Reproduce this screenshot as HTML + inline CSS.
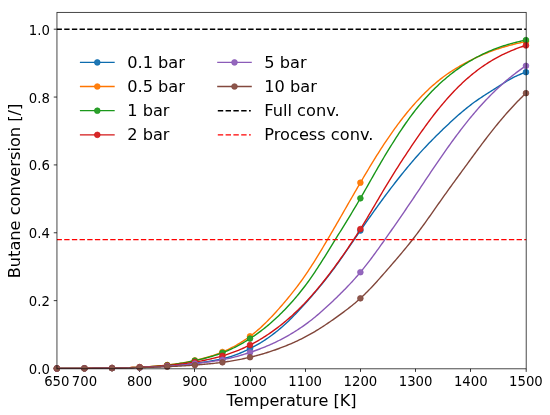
<!DOCTYPE html>
<html><head><meta charset="utf-8"><title>Butane conversion</title>
<style>html,body{margin:0;padding:0;background:#fff;overflow:hidden}svg{display:block}</style></head>
<body>
<svg width="550" height="415" viewBox="0 0 550 415">
<rect width="550" height="415" fill="#fff"/>
<defs><clipPath id="ax"><rect x="56.95" y="12.4" width="469.25000000000006" height="356.40000000000003"/></clipPath></defs>
<path d="M56.95 368.8v3.1 M84.50 368.8v3.1 M139.50 368.8v3.1 M194.50 368.8v3.1 M250.50 368.8v3.1 M305.50 368.8v3.1 M360.50 368.8v3.1 M415.50 368.8v3.1 M470.50 368.8v3.1 M526.20 368.8v3.1 M56.95 368.50h-3.2 M56.95 300.64h-3.2 M56.95 232.78h-3.2 M56.95 164.92h-3.2 M56.95 97.06h-3.2 M56.95 29.20h-3.2" stroke="#000" stroke-width="0.78" fill="none"/>
<g clip-path="url(#ax)"><path d="M56.85 368.46 L58.23 368.46 L59.61 368.46 L60.99 368.45 L62.37 368.45 L63.75 368.45 L65.13 368.44 L66.51 368.44 L67.89 368.44 L69.27 368.43 L70.65 368.43 L72.03 368.42 L73.41 368.42 L74.79 368.41 L76.17 368.41 L77.55 368.40 L78.93 368.39 L80.31 368.39 L81.69 368.38 L83.07 368.37 L84.44 368.36 L85.82 368.36 L87.20 368.35 L88.58 368.34 L89.96 368.33 L91.34 368.32 L92.72 368.31 L94.10 368.30 L95.48 368.29 L96.86 368.27 L98.24 368.26 L99.62 368.25 L101.00 368.23 L102.38 368.22 L103.76 368.20 L105.14 368.19 L106.52 368.17 L107.90 368.15 L109.28 368.14 L110.66 368.12 L112.04 368.10 L113.42 368.08 L114.80 368.05 L116.18 368.03 L117.56 368.01 L118.94 367.98 L120.32 367.95 L121.70 367.93 L123.08 367.90 L124.46 367.87 L125.84 367.84 L127.22 367.81 L128.60 367.77 L129.98 367.74 L131.36 367.70 L132.74 367.66 L134.12 367.62 L135.50 367.58 L136.88 367.54 L138.26 367.49 L139.63 367.45 L141.01 367.40 L142.39 367.35 L143.77 367.30 L145.15 367.24 L146.53 367.19 L147.91 367.13 L149.29 367.07 L150.67 367.01 L152.05 366.94 L153.43 366.88 L154.81 366.81 L156.19 366.73 L157.57 366.66 L158.95 366.58 L160.33 366.50 L161.71 366.42 L163.09 366.33 L164.47 366.24 L165.85 366.15 L167.23 366.06 L168.61 365.96 L169.99 365.85 L171.37 365.75 L172.75 365.64 L174.13 365.52 L175.51 365.40 L176.89 365.28 L178.27 365.16 L179.65 365.03 L181.03 364.90 L182.41 364.76 L183.79 364.62 L185.17 364.47 L186.55 364.32 L187.93 364.17 L189.31 364.01 L190.69 363.85 L192.07 363.69 L193.45 363.52 L194.82 363.34 L196.20 363.17 L197.58 362.99 L198.96 362.80 L200.34 362.62 L201.72 362.43 L203.10 362.24 L204.48 362.04 L205.86 361.84 L207.24 361.64 L208.62 361.43 L210.00 361.21 L211.38 360.99 L212.76 360.76 L214.14 360.52 L215.52 360.27 L216.90 360.01 L218.28 359.73 L219.66 359.45 L221.04 359.15 L222.42 358.83 L223.80 358.50 L225.18 358.14 L226.56 357.77 L227.94 357.38 L229.32 356.97 L230.70 356.54 L232.08 356.10 L233.46 355.63 L234.84 355.14 L236.22 354.64 L237.60 354.11 L238.98 353.56 L240.36 353.00 L241.74 352.42 L243.12 351.82 L244.50 351.20 L245.88 350.57 L247.26 349.92 L248.64 349.26 L250.01 348.58 L251.39 347.89 L252.77 347.18 L254.15 346.45 L255.53 345.70 L256.91 344.93 L258.29 344.13 L259.67 343.32 L261.05 342.48 L262.43 341.62 L263.81 340.73 L265.19 339.83 L266.57 338.90 L267.95 337.95 L269.33 336.97 L270.71 335.98 L272.09 334.96 L273.47 333.92 L274.85 332.86 L276.23 331.77 L277.61 330.67 L278.99 329.54 L280.37 328.38 L281.75 327.20 L283.13 325.99 L284.51 324.75 L285.89 323.49 L287.27 322.20 L288.65 320.89 L290.03 319.55 L291.41 318.19 L292.79 316.80 L294.17 315.39 L295.55 313.97 L296.93 312.52 L298.31 311.06 L299.69 309.58 L301.07 308.08 L302.45 306.57 L303.83 305.05 L305.20 303.52 L306.58 301.98 L307.96 300.43 L309.34 298.87 L310.72 297.29 L312.10 295.70 L313.48 294.10 L314.86 292.49 L316.24 290.86 L317.62 289.22 L319.00 287.57 L320.38 285.90 L321.76 284.22 L323.14 282.52 L324.52 280.80 L325.90 279.06 L327.28 277.31 L328.66 275.54 L330.04 273.75 L331.42 271.94 L332.80 270.10 L334.18 268.25 L335.56 266.37 L336.94 264.46 L338.32 262.54 L339.70 260.60 L341.08 258.65 L342.46 256.68 L343.84 254.69 L345.22 252.69 L346.60 250.69 L347.98 248.67 L349.36 246.65 L350.74 244.63 L352.12 242.60 L353.50 240.58 L354.88 238.55 L356.26 236.54 L357.64 234.53 L359.02 232.53 L360.39 230.54 L361.77 228.56 L363.15 226.59 L364.53 224.61 L365.91 222.64 L367.29 220.68 L368.67 218.72 L370.05 216.76 L371.43 214.81 L372.81 212.87 L374.19 210.93 L375.57 209.00 L376.95 207.08 L378.33 205.17 L379.71 203.27 L381.09 201.38 L382.47 199.49 L383.85 197.62 L385.23 195.76 L386.61 193.90 L387.99 192.06 L389.37 190.23 L390.75 188.42 L392.13 186.61 L393.51 184.81 L394.89 183.03 L396.27 181.25 L397.65 179.49 L399.03 177.74 L400.41 176.00 L401.79 174.28 L403.17 172.57 L404.55 170.87 L405.93 169.19 L407.31 167.52 L408.69 165.86 L410.07 164.22 L411.45 162.59 L412.83 160.98 L414.21 159.38 L415.58 157.79 L416.96 156.23 L418.34 154.68 L419.72 153.14 L421.10 151.62 L422.48 150.12 L423.86 148.64 L425.24 147.16 L426.62 145.71 L428.00 144.26 L429.38 142.83 L430.76 141.41 L432.14 140.01 L433.52 138.61 L434.90 137.23 L436.28 135.86 L437.66 134.49 L439.04 133.14 L440.42 131.79 L441.80 130.45 L443.18 129.12 L444.56 127.80 L445.94 126.48 L447.32 125.18 L448.70 123.88 L450.08 122.59 L451.46 121.31 L452.84 120.04 L454.22 118.78 L455.60 117.54 L456.98 116.30 L458.36 115.09 L459.74 113.88 L461.12 112.70 L462.50 111.52 L463.88 110.37 L465.26 109.23 L466.64 108.11 L468.02 107.01 L469.40 105.93 L470.77 104.86 L472.15 103.82 L473.53 102.80 L474.91 101.80 L476.29 100.82 L477.67 99.86 L479.05 98.92 L480.43 97.98 L481.81 97.07 L483.19 96.16 L484.57 95.26 L485.95 94.37 L487.33 93.49 L488.71 92.62 L490.09 91.75 L491.47 90.88 L492.85 90.01 L494.23 89.15 L495.61 88.28 L496.99 87.41 L498.37 86.54 L499.75 85.66 L501.13 84.76 L502.51 83.86 L503.89 82.96 L505.27 82.07 L506.65 81.20 L508.03 80.36 L509.41 79.55 L510.79 78.78 L512.17 78.06 L513.55 77.37 L514.93 76.71 L516.31 76.06 L517.69 75.44 L519.07 74.84 L520.45 74.26 L521.83 73.71 L523.21 73.18 L524.59 72.67 L525.96 72.19" stroke="#0969ac" stroke-width="1.38" fill="none" stroke-linejoin="round"/></g>
<g fill="#1f77b4" stroke="#0d6cae" stroke-width="0.7"><circle cx="56.85" cy="368.46" r="2.85"/><circle cx="84.44" cy="368.36" r="2.85"/><circle cx="112.04" cy="368.10" r="2.85"/><circle cx="139.63" cy="367.45" r="2.85"/><circle cx="167.23" cy="366.06" r="2.85"/><circle cx="194.82" cy="363.34" r="2.85"/><circle cx="222.42" cy="358.83" r="2.85"/><circle cx="250.01" cy="348.58" r="2.85"/><circle cx="360.39" cy="230.54" r="2.85"/><circle cx="525.96" cy="72.19" r="2.85"/></g>
<g clip-path="url(#ax)"><path d="M56.85 368.47 L58.23 368.47 L59.61 368.46 L60.99 368.46 L62.37 368.46 L63.75 368.45 L65.13 368.45 L66.51 368.45 L67.89 368.44 L69.27 368.44 L70.65 368.43 L72.03 368.43 L73.41 368.42 L74.79 368.42 L76.17 368.41 L77.55 368.41 L78.93 368.40 L80.31 368.39 L81.69 368.39 L83.07 368.38 L84.44 368.37 L85.82 368.36 L87.20 368.35 L88.58 368.34 L89.96 368.33 L91.34 368.32 L92.72 368.31 L94.10 368.29 L95.48 368.28 L96.86 368.27 L98.24 368.25 L99.62 368.24 L101.00 368.22 L102.38 368.20 L103.76 368.18 L105.14 368.16 L106.52 368.14 L107.90 368.12 L109.28 368.10 L110.66 368.07 L112.04 368.05 L113.42 368.02 L114.80 367.99 L116.18 367.96 L117.56 367.93 L118.94 367.90 L120.32 367.87 L121.70 367.83 L123.08 367.79 L124.46 367.75 L125.84 367.71 L127.22 367.67 L128.60 367.62 L129.98 367.57 L131.36 367.52 L132.74 367.47 L134.12 367.41 L135.50 367.36 L136.88 367.30 L138.26 367.23 L139.63 367.17 L141.01 367.10 L142.39 367.02 L143.77 366.95 L145.15 366.87 L146.53 366.79 L147.91 366.70 L149.29 366.61 L150.67 366.52 L152.05 366.42 L153.43 366.32 L154.81 366.21 L156.19 366.10 L157.57 365.99 L158.95 365.87 L160.33 365.74 L161.71 365.61 L163.09 365.48 L164.47 365.34 L165.85 365.19 L167.23 365.04 L168.61 364.88 L169.99 364.71 L171.37 364.54 L172.75 364.36 L174.13 364.18 L175.51 363.98 L176.89 363.78 L178.27 363.58 L179.65 363.36 L181.03 363.14 L182.41 362.91 L183.79 362.67 L185.17 362.43 L186.55 362.17 L187.93 361.91 L189.31 361.64 L190.69 361.36 L192.07 361.07 L193.45 360.77 L194.82 360.46 L196.20 360.14 L197.58 359.82 L198.96 359.48 L200.34 359.14 L201.72 358.78 L203.10 358.42 L204.48 358.04 L205.86 357.66 L207.24 357.26 L208.62 356.85 L210.00 356.43 L211.38 356.00 L212.76 355.55 L214.14 355.09 L215.52 354.61 L216.90 354.12 L218.28 353.61 L219.66 353.08 L221.04 352.54 L222.42 351.98 L223.80 351.39 L225.18 350.79 L226.56 350.17 L227.94 349.53 L229.32 348.87 L230.70 348.19 L232.08 347.49 L233.46 346.76 L234.84 346.02 L236.22 345.25 L237.60 344.46 L238.98 343.65 L240.36 342.81 L241.74 341.96 L243.12 341.07 L244.50 340.17 L245.88 339.24 L247.26 338.28 L248.64 337.30 L250.01 336.30 L251.39 335.27 L252.77 334.20 L254.15 333.11 L255.53 331.98 L256.91 330.82 L258.29 329.64 L259.67 328.41 L261.05 327.16 L262.43 325.88 L263.81 324.58 L265.19 323.24 L266.57 321.87 L267.95 320.48 L269.33 319.07 L270.71 317.63 L272.09 316.17 L273.47 314.69 L274.85 313.19 L276.23 311.67 L277.61 310.14 L278.99 308.60 L280.37 307.03 L281.75 305.46 L283.13 303.86 L284.51 302.25 L285.89 300.61 L287.27 298.96 L288.65 297.29 L290.03 295.60 L291.41 293.89 L292.79 292.15 L294.17 290.40 L295.55 288.61 L296.93 286.81 L298.31 284.97 L299.69 283.11 L301.07 281.22 L302.45 279.30 L303.83 277.35 L305.20 275.36 L306.58 273.34 L307.96 271.29 L309.34 269.21 L310.72 267.10 L312.10 264.96 L313.48 262.80 L314.86 260.61 L316.24 258.40 L317.62 256.16 L319.00 253.90 L320.38 251.62 L321.76 249.33 L323.14 247.02 L324.52 244.70 L325.90 242.36 L327.28 240.01 L328.66 237.66 L330.04 235.30 L331.42 232.94 L332.80 230.57 L334.18 228.21 L335.56 225.83 L336.94 223.44 L338.32 221.05 L339.70 218.65 L341.08 216.25 L342.46 213.84 L343.84 211.43 L345.22 209.02 L346.60 206.61 L347.98 204.19 L349.36 201.78 L350.74 199.38 L352.12 196.97 L353.50 194.58 L354.88 192.18 L356.26 189.80 L357.64 187.42 L359.02 185.06 L360.39 182.70 L361.77 180.35 L363.15 178.01 L364.53 175.68 L365.91 173.35 L367.29 171.03 L368.67 168.73 L370.05 166.44 L371.43 164.16 L372.81 161.90 L374.19 159.65 L375.57 157.42 L376.95 155.21 L378.33 153.01 L379.71 150.84 L381.09 148.69 L382.47 146.56 L383.85 144.45 L385.23 142.37 L386.61 140.32 L387.99 138.28 L389.37 136.28 L390.75 134.29 L392.13 132.33 L393.51 130.39 L394.89 128.47 L396.27 126.57 L397.65 124.69 L399.03 122.84 L400.41 121.02 L401.79 119.22 L403.17 117.44 L404.55 115.70 L405.93 113.97 L407.31 112.27 L408.69 110.60 L410.07 108.96 L411.45 107.34 L412.83 105.75 L414.21 104.19 L415.58 102.66 L416.96 101.15 L418.34 99.66 L419.72 98.20 L421.10 96.76 L422.48 95.34 L423.86 93.95 L425.24 92.58 L426.62 91.24 L428.00 89.92 L429.38 88.62 L430.76 87.35 L432.14 86.11 L433.52 84.89 L434.90 83.69 L436.28 82.52 L437.66 81.38 L439.04 80.26 L440.42 79.16 L441.80 78.09 L443.18 77.04 L444.56 76.02 L445.94 75.02 L447.32 74.05 L448.70 73.10 L450.08 72.17 L451.46 71.26 L452.84 70.37 L454.22 69.50 L455.60 68.64 L456.98 67.81 L458.36 66.99 L459.74 66.19 L461.12 65.40 L462.50 64.62 L463.88 63.86 L465.26 63.12 L466.64 62.38 L468.02 61.66 L469.40 60.95 L470.77 60.25 L472.15 59.56 L473.53 58.88 L474.91 58.21 L476.29 57.55 L477.67 56.91 L479.05 56.28 L480.43 55.66 L481.81 55.05 L483.19 54.46 L484.57 53.87 L485.95 53.30 L487.33 52.75 L488.71 52.20 L490.09 51.67 L491.47 51.15 L492.85 50.64 L494.23 50.15 L495.61 49.67 L496.99 49.20 L498.37 48.74 L499.75 48.30 L501.13 47.86 L502.51 47.44 L503.89 47.02 L505.27 46.62 L506.65 46.22 L508.03 45.83 L509.41 45.45 L510.79 45.09 L512.17 44.73 L513.55 44.37 L514.93 44.03 L516.31 43.70 L517.69 43.37 L519.07 43.05 L520.45 42.74 L521.83 42.44 L523.21 42.15 L524.59 41.86 L525.96 41.58" stroke="#ff7200" stroke-width="1.38" fill="none" stroke-linejoin="round"/></g>
<g fill="#ff7f0e" stroke="#ff7500" stroke-width="0.7"><circle cx="56.85" cy="368.47" r="2.85"/><circle cx="84.44" cy="368.37" r="2.85"/><circle cx="112.04" cy="368.05" r="2.85"/><circle cx="139.63" cy="367.17" r="2.85"/><circle cx="167.23" cy="365.04" r="2.85"/><circle cx="194.82" cy="360.46" r="2.85"/><circle cx="222.42" cy="351.98" r="2.85"/><circle cx="250.01" cy="336.30" r="2.85"/><circle cx="360.39" cy="182.70" r="2.85"/><circle cx="525.96" cy="41.58" r="2.85"/></g>
<g clip-path="url(#ax)"><path d="M56.85 368.47 L58.23 368.47 L59.61 368.47 L60.99 368.46 L62.37 368.46 L63.75 368.46 L65.13 368.46 L66.51 368.45 L67.89 368.45 L69.27 368.44 L70.65 368.44 L72.03 368.44 L73.41 368.43 L74.79 368.43 L76.17 368.42 L77.55 368.42 L78.93 368.41 L80.31 368.40 L81.69 368.40 L83.07 368.39 L84.44 368.38 L85.82 368.37 L87.20 368.36 L88.58 368.35 L89.96 368.34 L91.34 368.33 L92.72 368.32 L94.10 368.31 L95.48 368.30 L96.86 368.29 L98.24 368.27 L99.62 368.26 L101.00 368.24 L102.38 368.22 L103.76 368.21 L105.14 368.19 L106.52 368.17 L107.90 368.15 L109.28 368.13 L110.66 368.10 L112.04 368.08 L113.42 368.06 L114.80 368.03 L116.18 368.00 L117.56 367.97 L118.94 367.94 L120.32 367.91 L121.70 367.87 L123.08 367.84 L124.46 367.80 L125.84 367.76 L127.22 367.72 L128.60 367.67 L129.98 367.63 L131.36 367.58 L132.74 367.53 L134.12 367.48 L135.50 367.42 L136.88 367.36 L138.26 367.30 L139.63 367.24 L141.01 367.17 L142.39 367.10 L143.77 367.03 L145.15 366.95 L146.53 366.87 L147.91 366.79 L149.29 366.70 L150.67 366.61 L152.05 366.52 L153.43 366.42 L154.81 366.32 L156.19 366.21 L157.57 366.10 L158.95 365.98 L160.33 365.86 L161.71 365.73 L163.09 365.60 L164.47 365.47 L165.85 365.32 L167.23 365.17 L168.61 365.02 L169.99 364.85 L171.37 364.68 L172.75 364.50 L174.13 364.32 L175.51 364.12 L176.89 363.93 L178.27 363.72 L179.65 363.51 L181.03 363.29 L182.41 363.06 L183.79 362.82 L185.17 362.58 L186.55 362.33 L187.93 362.07 L189.31 361.80 L190.69 361.53 L192.07 361.25 L193.45 360.96 L194.82 360.66 L196.20 360.36 L197.58 360.05 L198.96 359.73 L200.34 359.40 L201.72 359.07 L203.10 358.72 L204.48 358.37 L205.86 358.01 L207.24 357.65 L208.62 357.27 L210.00 356.88 L211.38 356.48 L212.76 356.07 L214.14 355.64 L215.52 355.20 L216.90 354.75 L218.28 354.29 L219.66 353.81 L221.04 353.31 L222.42 352.79 L223.80 352.26 L225.18 351.70 L226.56 351.13 L227.94 350.54 L229.32 349.93 L230.70 349.31 L232.08 348.66 L233.46 348.00 L234.84 347.31 L236.22 346.61 L237.60 345.89 L238.98 345.15 L240.36 344.39 L241.74 343.61 L243.12 342.81 L244.50 342.00 L245.88 341.17 L247.26 340.32 L248.64 339.45 L250.01 338.57 L251.39 337.68 L252.77 336.76 L254.15 335.82 L255.53 334.87 L256.91 333.90 L258.29 332.90 L259.67 331.89 L261.05 330.85 L262.43 329.80 L263.81 328.73 L265.19 327.63 L266.57 326.51 L267.95 325.37 L269.33 324.21 L270.71 323.03 L272.09 321.82 L273.47 320.59 L274.85 319.34 L276.23 318.06 L277.61 316.76 L278.99 315.43 L280.37 314.09 L281.75 312.72 L283.13 311.33 L284.51 309.92 L285.89 308.48 L287.27 307.02 L288.65 305.54 L290.03 304.04 L291.41 302.51 L292.79 300.95 L294.17 299.37 L295.55 297.76 L296.93 296.13 L298.31 294.46 L299.69 292.77 L301.07 291.05 L302.45 289.30 L303.83 287.52 L305.20 285.71 L306.58 283.86 L307.96 281.98 L309.34 280.06 L310.72 278.10 L312.10 276.12 L313.48 274.09 L314.86 272.04 L316.24 269.96 L317.62 267.86 L319.00 265.73 L320.38 263.58 L321.76 261.40 L323.14 259.21 L324.52 257.01 L325.90 254.79 L327.28 252.57 L328.66 250.34 L330.04 248.10 L331.42 245.87 L332.80 243.64 L334.18 241.41 L335.56 239.18 L336.94 236.96 L338.32 234.73 L339.70 232.50 L341.08 230.27 L342.46 228.03 L343.84 225.80 L345.22 223.55 L346.60 221.31 L347.98 219.05 L349.36 216.79 L350.74 214.52 L352.12 212.24 L353.50 209.95 L354.88 207.65 L356.26 205.34 L357.64 203.01 L359.02 200.67 L360.39 198.31 L361.77 195.93 L363.15 193.54 L364.53 191.14 L365.91 188.73 L367.29 186.31 L368.67 183.88 L370.05 181.46 L371.43 179.03 L372.81 176.60 L374.19 174.18 L375.57 171.76 L376.95 169.35 L378.33 166.96 L379.71 164.57 L381.09 162.20 L382.47 159.85 L383.85 157.52 L385.23 155.21 L386.61 152.93 L387.99 150.67 L389.37 148.43 L390.75 146.21 L392.13 144.00 L393.51 141.80 L394.89 139.62 L396.27 137.46 L397.65 135.33 L399.03 133.21 L400.41 131.12 L401.79 129.05 L403.17 127.00 L404.55 124.99 L405.93 123.00 L407.31 121.04 L408.69 119.11 L410.07 117.21 L411.45 115.35 L412.83 113.51 L414.21 111.72 L415.58 109.95 L416.96 108.22 L418.34 106.52 L419.72 104.85 L421.10 103.21 L422.48 101.60 L423.86 100.02 L425.24 98.46 L426.62 96.93 L428.00 95.43 L429.38 93.96 L430.76 92.51 L432.14 91.09 L433.52 89.70 L434.90 88.33 L436.28 86.98 L437.66 85.66 L439.04 84.36 L440.42 83.09 L441.80 81.83 L443.18 80.60 L444.56 79.40 L445.94 78.21 L447.32 77.06 L448.70 75.92 L450.08 74.81 L451.46 73.71 L452.84 72.65 L454.22 71.60 L455.60 70.57 L456.98 69.57 L458.36 68.58 L459.74 67.62 L461.12 66.67 L462.50 65.75 L463.88 64.84 L465.26 63.95 L466.64 63.08 L468.02 62.23 L469.40 61.40 L470.77 60.59 L472.15 59.79 L473.53 59.00 L474.91 58.23 L476.29 57.48 L477.67 56.75 L479.05 56.03 L480.43 55.32 L481.81 54.63 L483.19 53.96 L484.57 53.31 L485.95 52.67 L487.33 52.04 L488.71 51.43 L490.09 50.84 L491.47 50.27 L492.85 49.71 L494.23 49.16 L495.61 48.63 L496.99 48.12 L498.37 47.62 L499.75 47.14 L501.13 46.67 L502.51 46.21 L503.89 45.76 L505.27 45.32 L506.65 44.90 L508.03 44.49 L509.41 44.08 L510.79 43.69 L512.17 43.31 L513.55 42.94 L514.93 42.58 L516.31 42.23 L517.69 41.89 L519.07 41.56 L520.45 41.24 L521.83 40.93 L523.21 40.63 L524.59 40.34 L525.96 40.06" stroke="#179617" stroke-width="1.38" fill="none" stroke-linejoin="round"/></g>
<g fill="#2ca02c" stroke="#1b981b" stroke-width="0.7"><circle cx="56.85" cy="368.47" r="2.85"/><circle cx="84.44" cy="368.38" r="2.85"/><circle cx="112.04" cy="368.08" r="2.85"/><circle cx="139.63" cy="367.24" r="2.85"/><circle cx="167.23" cy="365.17" r="2.85"/><circle cx="194.82" cy="360.66" r="2.85"/><circle cx="222.42" cy="352.79" r="2.85"/><circle cx="250.01" cy="338.57" r="2.85"/><circle cx="360.39" cy="198.31" r="2.85"/><circle cx="525.96" cy="40.06" r="2.85"/></g>
<g clip-path="url(#ax)"><path d="M56.85 368.46 L58.23 368.45 L59.61 368.45 L60.99 368.45 L62.37 368.44 L63.75 368.44 L65.13 368.43 L66.51 368.43 L67.89 368.42 L69.27 368.42 L70.65 368.41 L72.03 368.41 L73.41 368.40 L74.79 368.40 L76.17 368.39 L77.55 368.38 L78.93 368.37 L80.31 368.37 L81.69 368.36 L83.07 368.35 L84.44 368.34 L85.82 368.33 L87.20 368.32 L88.58 368.31 L89.96 368.30 L91.34 368.29 L92.72 368.27 L94.10 368.26 L95.48 368.25 L96.86 368.23 L98.24 368.22 L99.62 368.20 L101.00 368.18 L102.38 368.17 L103.76 368.15 L105.14 368.13 L106.52 368.11 L107.90 368.09 L109.28 368.06 L110.66 368.04 L112.04 368.01 L113.42 367.99 L114.80 367.96 L116.18 367.93 L117.56 367.90 L118.94 367.87 L120.32 367.84 L121.70 367.81 L123.08 367.77 L124.46 367.74 L125.84 367.70 L127.22 367.66 L128.60 367.62 L129.98 367.57 L131.36 367.53 L132.74 367.48 L134.12 367.43 L135.50 367.38 L136.88 367.33 L138.26 367.27 L139.63 367.22 L141.01 367.16 L142.39 367.10 L143.77 367.03 L145.15 366.96 L146.53 366.90 L147.91 366.82 L149.29 366.75 L150.67 366.67 L152.05 366.59 L153.43 366.51 L154.81 366.42 L156.19 366.33 L157.57 366.24 L158.95 366.14 L160.33 366.04 L161.71 365.93 L163.09 365.83 L164.47 365.72 L165.85 365.60 L167.23 365.48 L168.61 365.36 L169.99 365.23 L171.37 365.10 L172.75 364.96 L174.13 364.82 L175.51 364.67 L176.89 364.52 L178.27 364.37 L179.65 364.21 L181.03 364.04 L182.41 363.87 L183.79 363.69 L185.17 363.51 L186.55 363.32 L187.93 363.12 L189.31 362.92 L190.69 362.71 L192.07 362.50 L193.45 362.28 L194.82 362.05 L196.20 361.82 L197.58 361.58 L198.96 361.33 L200.34 361.08 L201.72 360.82 L203.10 360.55 L204.48 360.28 L205.86 360.00 L207.24 359.70 L208.62 359.40 L210.00 359.10 L211.38 358.78 L212.76 358.45 L214.14 358.12 L215.52 357.77 L216.90 357.42 L218.28 357.05 L219.66 356.67 L221.04 356.28 L222.42 355.88 L223.80 355.46 L225.18 355.04 L226.56 354.60 L227.94 354.14 L229.32 353.68 L230.70 353.20 L232.08 352.71 L233.46 352.20 L234.84 351.68 L236.22 351.14 L237.60 350.59 L238.98 350.03 L240.36 349.45 L241.74 348.86 L243.12 348.25 L244.50 347.63 L245.88 346.99 L247.26 346.34 L248.64 345.67 L250.01 344.99 L251.39 344.29 L252.77 343.57 L254.15 342.84 L255.53 342.09 L256.91 341.32 L258.29 340.53 L259.67 339.73 L261.05 338.91 L262.43 338.07 L263.81 337.21 L265.19 336.33 L266.57 335.44 L267.95 334.52 L269.33 333.59 L270.71 332.64 L272.09 331.67 L273.47 330.68 L274.85 329.68 L276.23 328.66 L277.61 327.61 L278.99 326.56 L280.37 325.48 L281.75 324.38 L283.13 323.26 L284.51 322.13 L285.89 320.97 L287.27 319.80 L288.65 318.61 L290.03 317.39 L291.41 316.16 L292.79 314.90 L294.17 313.63 L295.55 312.33 L296.93 311.02 L298.31 309.68 L299.69 308.32 L301.07 306.94 L302.45 305.54 L303.83 304.12 L305.20 302.68 L306.58 301.21 L307.96 299.72 L309.34 298.21 L310.72 296.68 L312.10 295.13 L313.48 293.56 L314.86 291.97 L316.24 290.35 L317.62 288.72 L319.00 287.06 L320.38 285.39 L321.76 283.69 L323.14 281.97 L324.52 280.24 L325.90 278.48 L327.28 276.71 L328.66 274.92 L330.04 273.10 L331.42 271.27 L332.80 269.42 L334.18 267.56 L335.56 265.68 L336.94 263.78 L338.32 261.87 L339.70 259.95 L341.08 258.00 L342.46 256.05 L343.84 254.07 L345.22 252.08 L346.60 250.07 L347.98 248.05 L349.36 246.01 L350.74 243.95 L352.12 241.88 L353.50 239.79 L354.88 237.68 L356.26 235.55 L357.64 233.40 L359.02 231.23 L360.39 229.05 L361.77 226.84 L363.15 224.61 L364.53 222.35 L365.91 220.08 L367.29 217.78 L368.67 215.47 L370.05 213.15 L371.43 210.81 L372.81 208.46 L374.19 206.11 L375.57 203.75 L376.95 201.40 L378.33 199.04 L379.71 196.69 L381.09 194.34 L382.47 192.00 L383.85 189.68 L385.23 187.37 L386.61 185.07 L387.99 182.80 L389.37 180.55 L390.75 178.31 L392.13 176.08 L393.51 173.87 L394.89 171.66 L396.27 169.48 L397.65 167.30 L399.03 165.14 L400.41 162.99 L401.79 160.86 L403.17 158.73 L404.55 156.62 L405.93 154.52 L407.31 152.44 L408.69 150.36 L410.07 148.30 L411.45 146.24 L412.83 144.20 L414.21 142.17 L415.58 140.15 L416.96 138.14 L418.34 136.15 L419.72 134.16 L421.10 132.20 L422.48 130.25 L423.86 128.31 L425.24 126.39 L426.62 124.49 L428.00 122.61 L429.38 120.75 L430.76 118.91 L432.14 117.09 L433.52 115.29 L434.90 113.51 L436.28 111.75 L437.66 110.02 L439.04 108.31 L440.42 106.63 L441.80 104.97 L443.18 103.34 L444.56 101.73 L445.94 100.14 L447.32 98.57 L448.70 97.02 L450.08 95.50 L451.46 94.00 L452.84 92.52 L454.22 91.06 L455.60 89.63 L456.98 88.23 L458.36 86.84 L459.74 85.48 L461.12 84.15 L462.50 82.84 L463.88 81.56 L465.26 80.30 L466.64 79.06 L468.02 77.86 L469.40 76.67 L470.77 75.51 L472.15 74.38 L473.53 73.27 L474.91 72.18 L476.29 71.11 L477.67 70.06 L479.05 69.03 L480.43 68.03 L481.81 67.04 L483.19 66.08 L484.57 65.14 L485.95 64.22 L487.33 63.32 L488.71 62.44 L490.09 61.58 L491.47 60.74 L492.85 59.93 L494.23 59.13 L495.61 58.35 L496.99 57.59 L498.37 56.85 L499.75 56.13 L501.13 55.43 L502.51 54.74 L503.89 54.07 L505.27 53.41 L506.65 52.77 L508.03 52.15 L509.41 51.54 L510.79 50.95 L512.17 50.37 L513.55 49.81 L514.93 49.26 L516.31 48.73 L517.69 48.21 L519.07 47.71 L520.45 47.21 L521.83 46.74 L523.21 46.27 L524.59 45.82 L525.96 45.38" stroke="#d21112" stroke-width="1.38" fill="none" stroke-linejoin="round"/></g>
<g fill="#d62728" stroke="#d31617" stroke-width="0.7"><circle cx="56.85" cy="368.46" r="2.85"/><circle cx="84.44" cy="368.34" r="2.85"/><circle cx="112.04" cy="368.01" r="2.85"/><circle cx="139.63" cy="367.22" r="2.85"/><circle cx="167.23" cy="365.48" r="2.85"/><circle cx="194.82" cy="362.05" r="2.85"/><circle cx="222.42" cy="355.88" r="2.85"/><circle cx="250.01" cy="344.99" r="2.85"/><circle cx="360.39" cy="229.05" r="2.85"/><circle cx="525.96" cy="45.38" r="2.85"/></g>
<g clip-path="url(#ax)"><path d="M56.85 368.46 L58.23 368.46 L59.61 368.46 L60.99 368.45 L62.37 368.45 L63.75 368.45 L65.13 368.44 L66.51 368.44 L67.89 368.44 L69.27 368.43 L70.65 368.43 L72.03 368.42 L73.41 368.42 L74.79 368.41 L76.17 368.41 L77.55 368.40 L78.93 368.39 L80.31 368.39 L81.69 368.38 L83.07 368.37 L84.44 368.37 L85.82 368.36 L87.20 368.35 L88.58 368.34 L89.96 368.33 L91.34 368.32 L92.72 368.31 L94.10 368.30 L95.48 368.29 L96.86 368.28 L98.24 368.27 L99.62 368.25 L101.00 368.24 L102.38 368.23 L103.76 368.21 L105.14 368.20 L106.52 368.18 L107.90 368.16 L109.28 368.15 L110.66 368.13 L112.04 368.11 L113.42 368.09 L114.80 368.07 L116.18 368.05 L117.56 368.02 L118.94 368.00 L120.32 367.97 L121.70 367.95 L123.08 367.92 L124.46 367.89 L125.84 367.86 L127.22 367.83 L128.60 367.80 L129.98 367.77 L131.36 367.73 L132.74 367.70 L134.12 367.66 L135.50 367.62 L136.88 367.58 L138.26 367.54 L139.63 367.49 L141.01 367.45 L142.39 367.40 L143.77 367.35 L145.15 367.30 L146.53 367.25 L147.91 367.20 L149.29 367.14 L150.67 367.08 L152.05 367.02 L153.43 366.96 L154.81 366.89 L156.19 366.82 L157.57 366.75 L158.95 366.68 L160.33 366.61 L161.71 366.53 L163.09 366.45 L164.47 366.37 L165.85 366.28 L167.23 366.19 L168.61 366.10 L169.99 366.00 L171.37 365.90 L172.75 365.80 L174.13 365.69 L175.51 365.58 L176.89 365.47 L178.27 365.35 L179.65 365.23 L181.03 365.10 L182.41 364.98 L183.79 364.85 L185.17 364.71 L186.55 364.58 L187.93 364.44 L189.31 364.29 L190.69 364.14 L192.07 363.99 L193.45 363.84 L194.82 363.68 L196.20 363.52 L197.58 363.36 L198.96 363.20 L200.34 363.03 L201.72 362.86 L203.10 362.69 L204.48 362.51 L205.86 362.33 L207.24 362.15 L208.62 361.96 L210.00 361.77 L211.38 361.57 L212.76 361.37 L214.14 361.16 L215.52 360.94 L216.90 360.72 L218.28 360.49 L219.66 360.25 L221.04 360.00 L222.42 359.75 L223.80 359.48 L225.18 359.20 L226.56 358.91 L227.94 358.61 L229.32 358.30 L230.70 357.97 L232.08 357.64 L233.46 357.30 L234.84 356.94 L236.22 356.58 L237.60 356.21 L238.98 355.82 L240.36 355.43 L241.74 355.02 L243.12 354.61 L244.50 354.19 L245.88 353.76 L247.26 353.32 L248.64 352.87 L250.01 352.42 L251.39 351.96 L252.77 351.49 L254.15 351.01 L255.53 350.52 L256.91 350.02 L258.29 349.51 L259.67 348.99 L261.05 348.46 L262.43 347.92 L263.81 347.37 L265.19 346.81 L266.57 346.23 L267.95 345.64 L269.33 345.05 L270.71 344.44 L272.09 343.81 L273.47 343.18 L274.85 342.53 L276.23 341.86 L277.61 341.19 L278.99 340.50 L280.37 339.79 L281.75 339.07 L283.13 338.34 L284.51 337.60 L285.89 336.84 L287.27 336.07 L288.65 335.28 L290.03 334.48 L291.41 333.67 L292.79 332.84 L294.17 331.99 L295.55 331.13 L296.93 330.25 L298.31 329.36 L299.69 328.45 L301.07 327.52 L302.45 326.57 L303.83 325.61 L305.20 324.63 L306.58 323.63 L307.96 322.61 L309.34 321.57 L310.72 320.50 L312.10 319.42 L313.48 318.32 L314.86 317.20 L316.24 316.06 L317.62 314.90 L319.00 313.73 L320.38 312.54 L321.76 311.33 L323.14 310.10 L324.52 308.86 L325.90 307.61 L327.28 306.34 L328.66 305.06 L330.04 303.77 L331.42 302.46 L332.80 301.15 L334.18 299.83 L335.56 298.50 L336.94 297.16 L338.32 295.81 L339.70 294.46 L341.08 293.09 L342.46 291.71 L343.84 290.32 L345.22 288.92 L346.60 287.50 L347.98 286.06 L349.36 284.61 L350.74 283.14 L352.12 281.66 L353.50 280.15 L354.88 278.62 L356.26 277.06 L357.64 275.48 L359.02 273.88 L360.39 272.24 L361.77 270.58 L363.15 268.89 L364.53 267.17 L365.91 265.43 L367.29 263.66 L368.67 261.87 L370.05 260.06 L371.43 258.22 L372.81 256.37 L374.19 254.50 L375.57 252.61 L376.95 250.71 L378.33 248.79 L379.71 246.87 L381.09 244.93 L382.47 242.98 L383.85 241.03 L385.23 239.07 L386.61 237.11 L387.99 235.16 L389.37 233.19 L390.75 231.23 L392.13 229.25 L393.51 227.28 L394.89 225.29 L396.27 223.30 L397.65 221.31 L399.03 219.31 L400.41 217.31 L401.79 215.30 L403.17 213.28 L404.55 211.27 L405.93 209.24 L407.31 207.21 L408.69 205.18 L410.07 203.14 L411.45 201.10 L412.83 199.05 L414.21 197.00 L415.58 194.95 L416.96 192.89 L418.34 190.82 L419.72 188.76 L421.10 186.69 L422.48 184.62 L423.86 182.55 L425.24 180.48 L426.62 178.41 L428.00 176.35 L429.38 174.28 L430.76 172.23 L432.14 170.18 L433.52 168.13 L434.90 166.09 L436.28 164.06 L437.66 162.04 L439.04 160.03 L440.42 158.03 L441.80 156.04 L443.18 154.06 L444.56 152.10 L445.94 150.14 L447.32 148.19 L448.70 146.26 L450.08 144.33 L451.46 142.42 L452.84 140.52 L454.22 138.63 L455.60 136.76 L456.98 134.90 L458.36 133.05 L459.74 131.23 L461.12 129.41 L462.50 127.62 L463.88 125.84 L465.26 124.09 L466.64 122.35 L468.02 120.63 L469.40 118.93 L470.77 117.25 L472.15 115.59 L473.53 113.95 L474.91 112.33 L476.29 110.73 L477.67 109.14 L479.05 107.58 L480.43 106.04 L481.81 104.51 L483.19 103.01 L484.57 101.52 L485.95 100.06 L487.33 98.61 L488.71 97.18 L490.09 95.77 L491.47 94.38 L492.85 93.02 L494.23 91.66 L495.61 90.33 L496.99 89.02 L498.37 87.73 L499.75 86.46 L501.13 85.20 L502.51 83.96 L503.89 82.75 L505.27 81.55 L506.65 80.37 L508.03 79.21 L509.41 78.06 L510.79 76.94 L512.17 75.84 L513.55 74.75 L514.93 73.69 L516.31 72.64 L517.69 71.61 L519.07 70.61 L520.45 69.62 L521.83 68.64 L523.21 67.69 L524.59 66.76 L525.96 65.84" stroke="#8958b6" stroke-width="1.38" fill="none" stroke-linejoin="round"/></g>
<g fill="#9467bd" stroke="#8b5bb8" stroke-width="0.7"><circle cx="56.85" cy="368.46" r="2.85"/><circle cx="84.44" cy="368.37" r="2.85"/><circle cx="112.04" cy="368.11" r="2.85"/><circle cx="139.63" cy="367.49" r="2.85"/><circle cx="167.23" cy="366.19" r="2.85"/><circle cx="194.82" cy="363.68" r="2.85"/><circle cx="222.42" cy="359.75" r="2.85"/><circle cx="250.01" cy="352.42" r="2.85"/><circle cx="360.39" cy="272.24" r="2.85"/><circle cx="525.96" cy="65.84" r="2.85"/></g>
<g clip-path="url(#ax)"><path d="M56.85 368.44 L58.23 368.44 L59.61 368.43 L60.99 368.43 L62.37 368.43 L63.75 368.42 L65.13 368.42 L66.51 368.41 L67.89 368.41 L69.27 368.40 L70.65 368.40 L72.03 368.39 L73.41 368.39 L74.79 368.38 L76.17 368.37 L77.55 368.37 L78.93 368.36 L80.31 368.35 L81.69 368.35 L83.07 368.34 L84.44 368.33 L85.82 368.32 L87.20 368.31 L88.58 368.30 L89.96 368.30 L91.34 368.29 L92.72 368.28 L94.10 368.26 L95.48 368.25 L96.86 368.24 L98.24 368.23 L99.62 368.22 L101.00 368.21 L102.38 368.19 L103.76 368.18 L105.14 368.16 L106.52 368.15 L107.90 368.13 L109.28 368.12 L110.66 368.10 L112.04 368.08 L113.42 368.07 L114.80 368.05 L116.18 368.03 L117.56 368.01 L118.94 367.99 L120.32 367.97 L121.70 367.95 L123.08 367.92 L124.46 367.90 L125.84 367.88 L127.22 367.85 L128.60 367.82 L129.98 367.80 L131.36 367.77 L132.74 367.74 L134.12 367.71 L135.50 367.68 L136.88 367.65 L138.26 367.62 L139.63 367.59 L141.01 367.55 L142.39 367.52 L143.77 367.48 L145.15 367.44 L146.53 367.40 L147.91 367.36 L149.29 367.32 L150.67 367.28 L152.05 367.24 L153.43 367.19 L154.81 367.15 L156.19 367.10 L157.57 367.05 L158.95 367.00 L160.33 366.95 L161.71 366.89 L163.09 366.84 L164.47 366.78 L165.85 366.73 L167.23 366.67 L168.61 366.61 L169.99 366.55 L171.37 366.49 L172.75 366.42 L174.13 366.36 L175.51 366.29 L176.89 366.22 L178.27 366.15 L179.65 366.08 L181.03 366.00 L182.41 365.92 L183.79 365.84 L185.17 365.76 L186.55 365.67 L187.93 365.59 L189.31 365.50 L190.69 365.40 L192.07 365.31 L193.45 365.21 L194.82 365.11 L196.20 365.00 L197.58 364.90 L198.96 364.78 L200.34 364.67 L201.72 364.55 L203.10 364.43 L204.48 364.31 L205.86 364.18 L207.24 364.05 L208.62 363.92 L210.00 363.78 L211.38 363.64 L212.76 363.49 L214.14 363.34 L215.52 363.18 L216.90 363.02 L218.28 362.86 L219.66 362.68 L221.04 362.51 L222.42 362.32 L223.80 362.14 L225.18 361.94 L226.56 361.74 L227.94 361.53 L229.32 361.32 L230.70 361.09 L232.08 360.86 L233.46 360.63 L234.84 360.38 L236.22 360.13 L237.60 359.87 L238.98 359.61 L240.36 359.34 L241.74 359.06 L243.12 358.77 L244.50 358.48 L245.88 358.18 L247.26 357.87 L248.64 357.56 L250.01 357.24 L251.39 356.91 L252.77 356.57 L254.15 356.23 L255.53 355.87 L256.91 355.51 L258.29 355.14 L259.67 354.76 L261.05 354.37 L262.43 353.97 L263.81 353.56 L265.19 353.14 L266.57 352.72 L267.95 352.28 L269.33 351.84 L270.71 351.39 L272.09 350.93 L273.47 350.45 L274.85 349.98 L276.23 349.49 L277.61 348.99 L278.99 348.48 L280.37 347.97 L281.75 347.45 L283.13 346.91 L284.51 346.37 L285.89 345.82 L287.27 345.26 L288.65 344.69 L290.03 344.11 L291.41 343.51 L292.79 342.91 L294.17 342.29 L295.55 341.67 L296.93 341.03 L298.31 340.38 L299.69 339.72 L301.07 339.05 L302.45 338.36 L303.83 337.66 L305.20 336.95 L306.58 336.22 L307.96 335.47 L309.34 334.72 L310.72 333.94 L312.10 333.16 L313.48 332.35 L314.86 331.54 L316.24 330.71 L317.62 329.87 L319.00 329.01 L320.38 328.14 L321.76 327.26 L323.14 326.37 L324.52 325.46 L325.90 324.54 L327.28 323.62 L328.66 322.68 L330.04 321.73 L331.42 320.77 L332.80 319.81 L334.18 318.84 L335.56 317.86 L336.94 316.88 L338.32 315.89 L339.70 314.90 L341.08 313.89 L342.46 312.88 L343.84 311.85 L345.22 310.82 L346.60 309.77 L347.98 308.71 L349.36 307.63 L350.74 306.54 L352.12 305.43 L353.50 304.31 L354.88 303.16 L356.26 301.99 L357.64 300.80 L359.02 299.58 L360.39 298.33 L361.77 297.06 L363.15 295.76 L364.53 294.43 L365.91 293.08 L367.29 291.70 L368.67 290.30 L370.05 288.87 L371.43 287.42 L372.81 285.96 L374.19 284.47 L375.57 282.96 L376.95 281.44 L378.33 279.91 L379.71 278.36 L381.09 276.80 L382.47 275.23 L383.85 273.66 L385.23 272.08 L386.61 270.50 L387.99 268.92 L389.37 267.33 L390.75 265.74 L392.13 264.15 L393.51 262.56 L394.89 260.96 L396.27 259.35 L397.65 257.73 L399.03 256.11 L400.41 254.48 L401.79 252.84 L403.17 251.18 L404.55 249.52 L405.93 247.84 L407.31 246.15 L408.69 244.45 L410.07 242.73 L411.45 240.99 L412.83 239.24 L414.21 237.46 L415.58 235.66 L416.96 233.85 L418.34 232.01 L419.72 230.15 L421.10 228.28 L422.48 226.39 L423.86 224.49 L425.24 222.57 L426.62 220.64 L428.00 218.70 L429.38 216.75 L430.76 214.80 L432.14 212.84 L433.52 210.87 L434.90 208.90 L436.28 206.94 L437.66 204.97 L439.04 203.01 L440.42 201.05 L441.80 199.10 L443.18 197.15 L444.56 195.22 L445.94 193.29 L447.32 191.36 L448.70 189.44 L450.08 187.52 L451.46 185.61 L452.84 183.70 L454.22 181.80 L455.60 179.90 L456.98 178.00 L458.36 176.11 L459.74 174.22 L461.12 172.33 L462.50 170.44 L463.88 168.56 L465.26 166.67 L466.64 164.79 L468.02 162.91 L469.40 161.03 L470.77 159.15 L472.15 157.27 L473.53 155.39 L474.91 153.52 L476.29 151.65 L477.67 149.78 L479.05 147.91 L480.43 146.06 L481.81 144.21 L483.19 142.37 L484.57 140.54 L485.95 138.72 L487.33 136.91 L488.71 135.12 L490.09 133.34 L491.47 131.57 L492.85 129.83 L494.23 128.09 L495.61 126.38 L496.99 124.69 L498.37 123.02 L499.75 121.36 L501.13 119.72 L502.51 118.10 L503.89 116.49 L505.27 114.90 L506.65 113.32 L508.03 111.77 L509.41 110.22 L510.79 108.70 L512.17 107.20 L513.55 105.71 L514.93 104.24 L516.31 102.79 L517.69 101.35 L519.07 99.94 L520.45 98.55 L521.83 97.17 L523.21 95.81 L524.59 94.48 L525.96 93.16" stroke="#804539" stroke-width="1.38" fill="none" stroke-linejoin="round"/></g>
<g fill="#8c564b" stroke="#83483d" stroke-width="0.7"><circle cx="56.85" cy="368.44" r="2.85"/><circle cx="84.44" cy="368.33" r="2.85"/><circle cx="112.04" cy="368.08" r="2.85"/><circle cx="139.63" cy="367.59" r="2.85"/><circle cx="167.23" cy="366.67" r="2.85"/><circle cx="194.82" cy="365.11" r="2.85"/><circle cx="222.42" cy="362.32" r="2.85"/><circle cx="250.01" cy="357.24" r="2.85"/><circle cx="360.39" cy="298.33" r="2.85"/><circle cx="525.96" cy="93.16" r="2.85"/></g>
<g clip-path="url(#ax)"><path d="M56.55 29.20H534.2" stroke="#000" stroke-width="1.38" stroke-dasharray="5.36 2.307" fill="none"/></g>
<g clip-path="url(#ax)"><path d="M56.55 239.57H534.2" stroke="#f00" stroke-width="1.38" stroke-dasharray="5.36 2.307" fill="none"/></g>
<rect x="56.95" y="12.4" width="469.25000000000006" height="356.40000000000003" fill="none" stroke="#000" stroke-width="0.88" stroke-opacity="0.82"/>
<g font-family="DejaVu Sans, Liberation Sans, sans-serif" font-size="13.25" fill="#000">
<text x="56.85" y="385.6" text-anchor="middle">650</text>
<text x="84.44" y="385.6" text-anchor="middle">700</text>
<text x="139.63" y="385.6" text-anchor="middle">800</text>
<text x="194.82" y="385.6" text-anchor="middle">900</text>
<text x="250.01" y="385.6" text-anchor="middle">1000</text>
<text x="305.20" y="385.6" text-anchor="middle">1100</text>
<text x="360.39" y="385.6" text-anchor="middle">1200</text>
<text x="415.58" y="385.6" text-anchor="middle">1300</text>
<text x="470.77" y="385.6" text-anchor="middle">1400</text>
<text x="525.96" y="385.6" text-anchor="middle">1500</text>
<text x="49.95" y="373.95" text-anchor="end">0.0</text>
<text x="49.95" y="306.09" text-anchor="end">0.2</text>
<text x="49.95" y="238.23" text-anchor="end">0.4</text>
<text x="49.95" y="170.37" text-anchor="end">0.6</text>
<text x="49.95" y="102.51" text-anchor="end">0.8</text>
<text x="49.95" y="34.65" text-anchor="end">1.0</text>
</g>
<g font-family="DejaVu Sans, Liberation Sans, sans-serif" font-size="16.2" fill="#000">
<text x="291.58" y="405.55" font-size="16.08" text-anchor="middle">Temperature [K]</text>
<text transform="translate(20.4 191.00) rotate(-90)" text-anchor="middle">Butane conversion [/]</text>
<path d="M79.9 62.4H114.7" stroke="#0d6cae" stroke-width="1.3"/><circle cx="97.30" cy="62.4" r="2.85" fill="#1f77b4" stroke="#0d6cae" stroke-width="0.7"/>
<text x="127.2" y="68.00">0.1 bar</text>
<path d="M79.9 86.5H114.7" stroke="#ff7500" stroke-width="1.3"/><circle cx="97.30" cy="86.5" r="2.85" fill="#ff7f0e" stroke="#ff7500" stroke-width="0.7"/>
<text x="127.2" y="92.10">0.5 bar</text>
<path d="M79.9 110.7H114.7" stroke="#1b981b" stroke-width="1.3"/><circle cx="97.30" cy="110.7" r="2.85" fill="#2ca02c" stroke="#1b981b" stroke-width="0.7"/>
<text x="127.2" y="116.30">1 bar</text>
<path d="M79.9 134.85H114.7" stroke="#d31617" stroke-width="1.3"/><circle cx="97.30" cy="134.85" r="2.85" fill="#d62728" stroke="#d31617" stroke-width="0.7"/>
<text x="127.2" y="140.45">2 bar</text>
<path d="M217.2 62.4H251.8" stroke="#8b5bb8" stroke-width="1.3"/><circle cx="234.50" cy="62.4" r="2.85" fill="#9467bd" stroke="#8b5bb8" stroke-width="0.7"/>
<text x="264.3" y="68.00">5 bar</text>
<path d="M217.2 86.5H251.8" stroke="#83483d" stroke-width="1.3"/><circle cx="234.50" cy="86.5" r="2.85" fill="#8c564b" stroke="#83483d" stroke-width="0.7"/>
<text x="264.3" y="92.10">10 bar</text>
<path d="M217.80 110.7H250.80" stroke="#000" stroke-width="1.45" stroke-dasharray="5.4 2.4"/>
<text x="264.3" y="116.30">Full conv.</text>
<path d="M217.80 134.85H250.80" stroke="#f00" stroke-width="1.45" stroke-dasharray="5.4 2.4"/>
<text x="264.3" y="140.45">Process conv.</text>
</g>
</svg>
</body></html>
